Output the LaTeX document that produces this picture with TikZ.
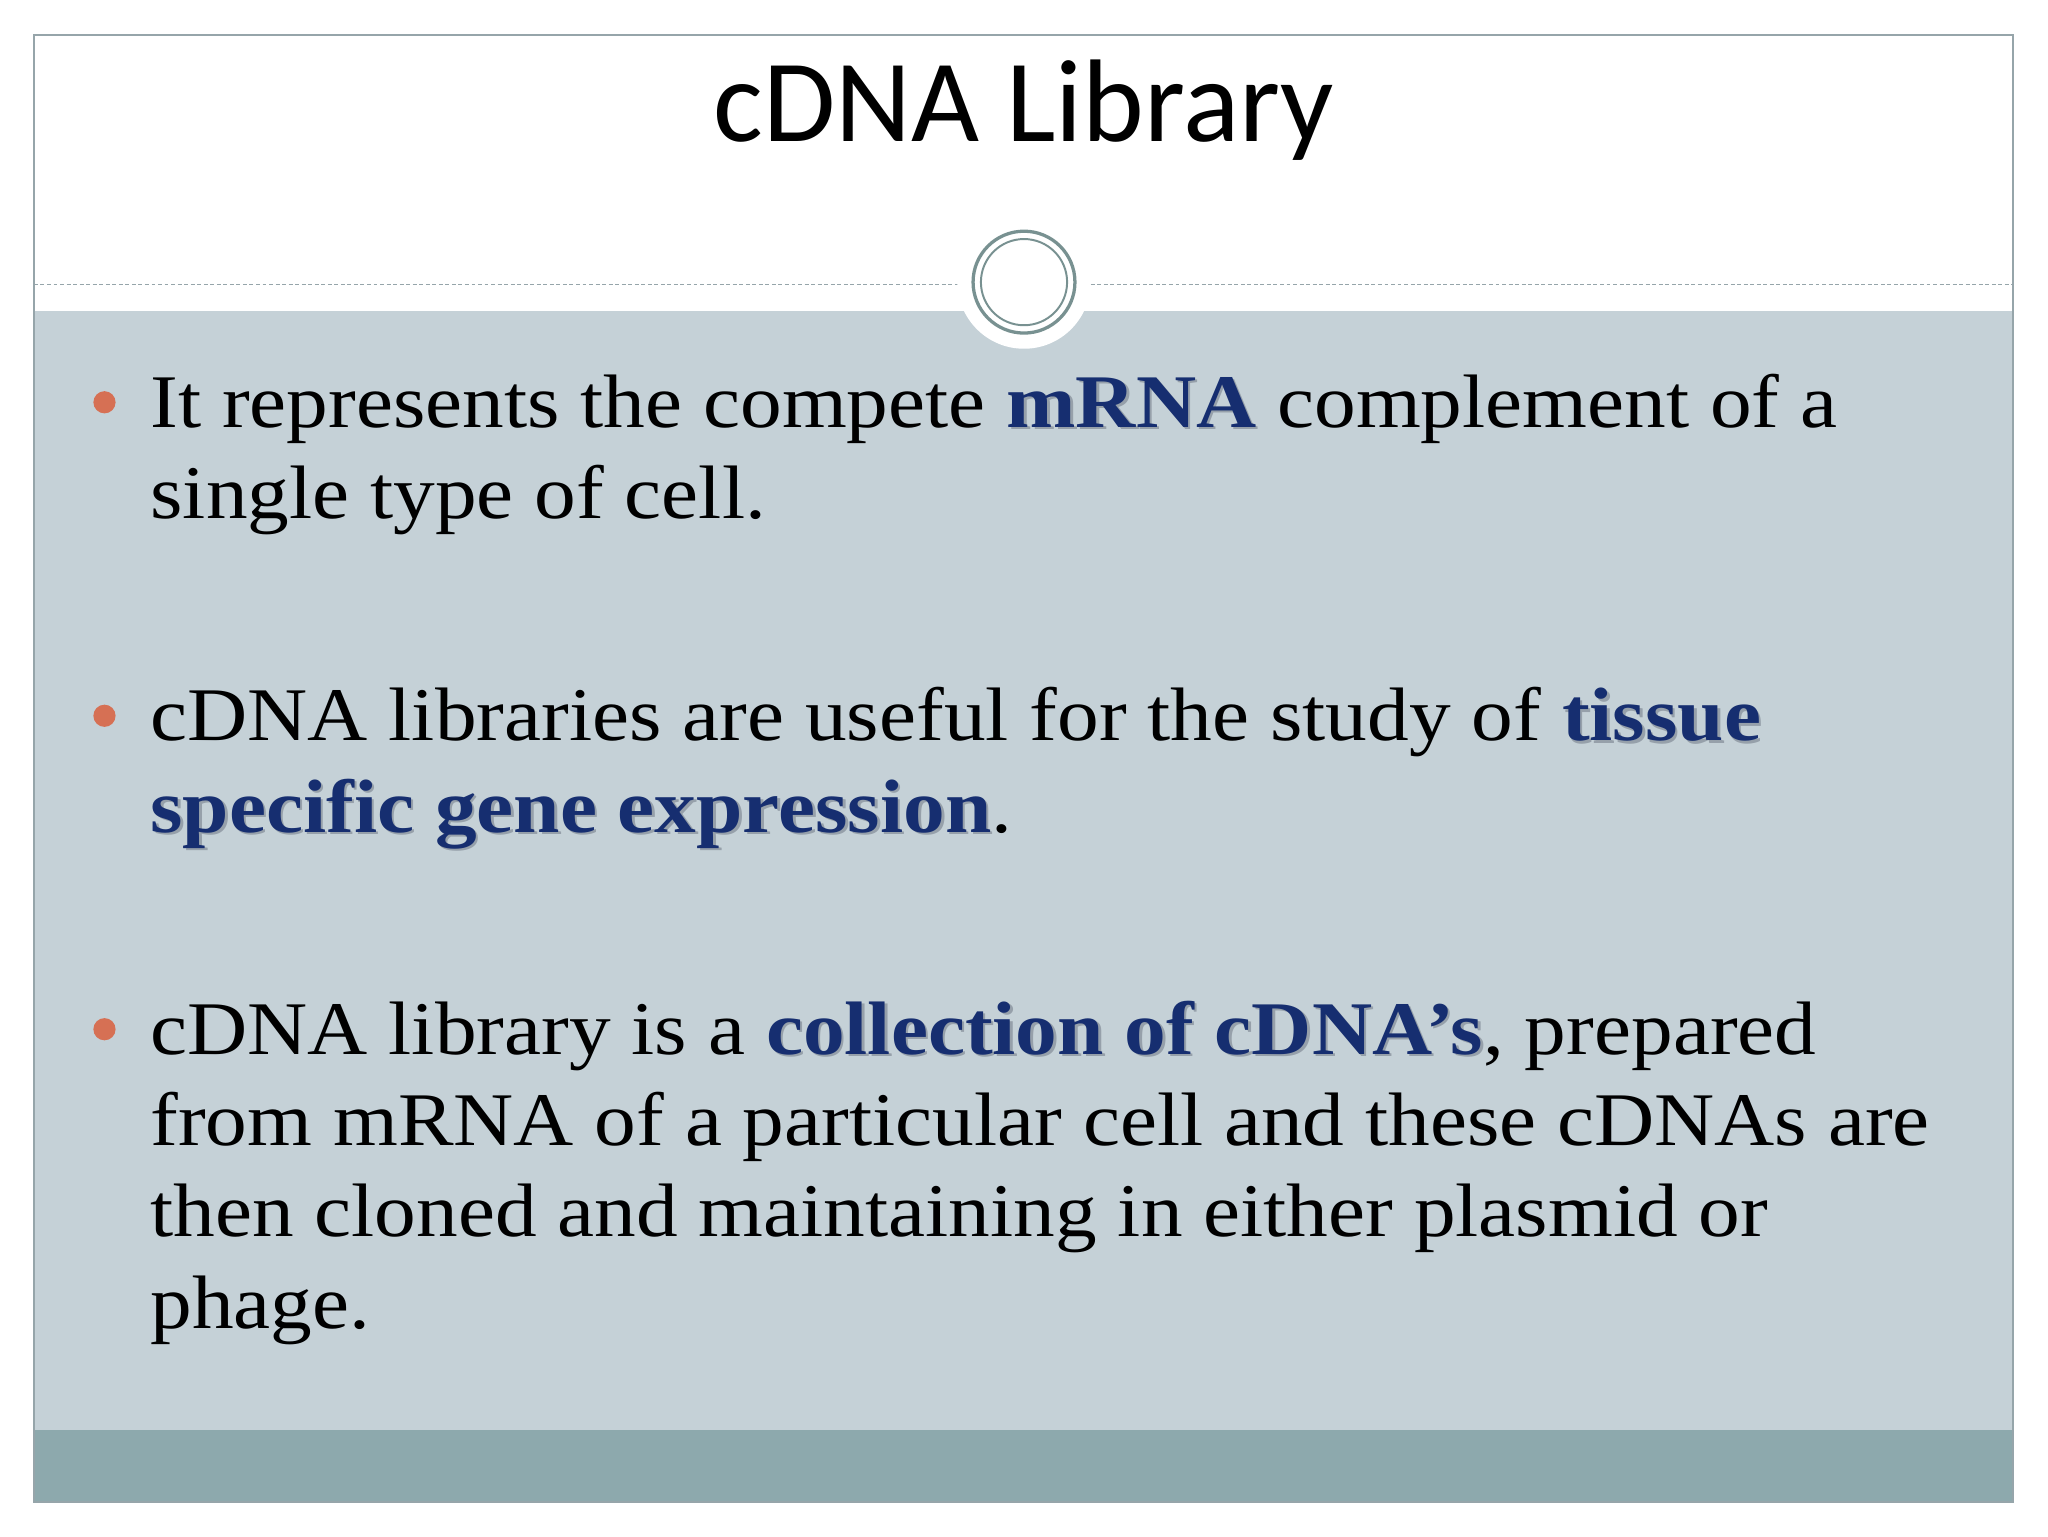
\documentclass[tikz,border=0pt]{standalone}
\usepackage{fontspec}
\setmainfont{Liberation Serif}[FakeStretch=1.10]
\newfontfamily\titlefont{Carlito}
\definecolor{bodybg}{RGB}{197,209,215}
\definecolor{bandbg}{RGB}{141,169,173}
\definecolor{framec}{RGB}{150,165,170}
\definecolor{bul}{RGB}{214,112,84}
\definecolor{hi}{RGB}{22,46,112}
\definecolor{shad}{RGB}{150,160,170}
\definecolor{ringc}{RGB}{120,145,145}
\newcommand{\hl}[1]{\textbf{\rlap{\raisebox{-2pt}{\kern2pt\color{shad}#1}}\color{hi}#1}}
\tikzset{line/.style={anchor=base west,inner sep=0pt,font=\fontsize{58}{70}\selectfont},
bulletdot/.style={circle,fill=bul,inner sep=0pt,minimum size=17pt}}
\begin{document}
\begin{tikzpicture}[x=1pt,y=-1pt]
\useasboundingbox (0,0) rectangle (1568,1176);
\fill[white] (0,0) rectangle (1568,1176);
\fill[bodybg] (26,238) rectangle (1541,1095);
\fill[bandbg] (26,1095) rectangle (1541,1150);
\draw[framec,line width=1.2pt] (26,27) rectangle (1541,1150);
\coordinate (dl1) at (26,218); \coordinate (dl2) at (735,218);
\coordinate (dr1) at (835,218); \coordinate (dr2) at (1541,218);
\draw[framec,dashed,dash pattern=on 3pt off 2pt] (dl1) -- (dl2) (dr1) -- (dr2);
\fill[white] (784,216) circle (51);
\node[circle,draw=ringc,line width=2.5pt,minimum size=78pt,inner sep=0pt] (ring) at (784,216) {};
\node[circle,draw=ringc,line width=1.5pt,minimum size=66pt,inner sep=0pt] (ringin) at (784,216) {};
\node[font=\titlefont\fontsize{90}{90}\selectfont,anchor=base,inner sep=0pt] (title) at (784,108) {cDNA Library};
\node[bulletdot] (b1) at (80,308) {};
\node[bulletdot] (b2) at (80,548) {};
\node[bulletdot] (b3) at (80,788) {};
\node[line] (l1) at (115,327) {It represents the compete \hl{mRNA} complement of a};
\node[line] (l2) at (115,397) {single type of cell.};
\node[line] (l3) at (115,567) {cDNA libraries are useful for the study of \hl{tissue}};
\node[line] (l4) at (115,637) {\hl{specific gene expression}.};
\node[line] (l5) at (115,807) {cDNA library is a \hl{collection of cDNA’s}, prepared};
\node[line] (l6) at (115,877) {from mRNA of a particular cell and these cDNAs are};
\node[line] (l7) at (115,947) {then cloned and maintaining in either plasmid or};
\node[line] (l8) at (115,1017) {phage.};
\end{tikzpicture}
\end{document}
